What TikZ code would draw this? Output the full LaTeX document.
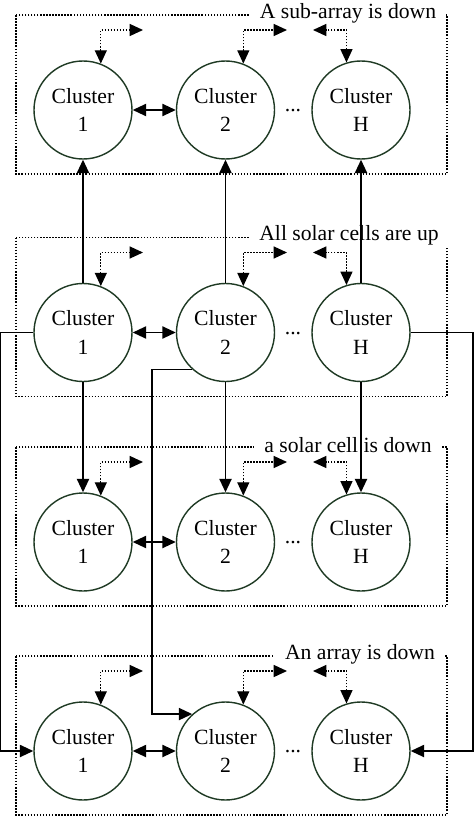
\documentclass[tikz,border=0pt]{standalone}
\usepackage{fontspec}
\setmainfont{Liberation Serif}
\usetikzlibrary{arrows.meta}
\definecolor{ringgreen}{HTML}{1F3A24}

\begin{document}
\begin{tikzpicture}[x=0.03cm, y=-0.03cm,
    >={Triangle[length=0.4cm, width=0.36cm]},
    cluster/.style={circle, draw=ringgreen, line width=1.2pt, minimum size=2.94cm,
        align=center, font=\fontsize{18.5}{24}\selectfont},
    link/.style={line width=1.6pt},
    dotlink/.style={line width=1.1pt, dash pattern=on 1.3pt off 1.3pt, <->},
    panel/.style={line width=1.1pt, dash pattern=on 1.3pt off 1.3pt},
    caption/.style={fill=white, inner xsep=0.3cm, inner ysep=0.05cm,
        font=\fontsize{18.5}{22}\selectfont}]
    \useasboundingbox (0, 0) rectangle (474, 816);
    %\draw[lightgray] (0, 0) grid[step=50] (474, 816);
    \foreach \p/\y/\txt/\lx in {a/110/A sub-array is down/348,
            b/332.5/All solar cells are up/349,
            c/542/a solar cell is down/348,
            d/751/An array is down/360} {
        \draw[panel] (16, \y-95) rectangle (447, \y+64);
        \node[caption] (\p t) at (\lx, \y-97) {\txt};
        \node[cluster] (\p1) at (83, \y) {Cluster\\1};
        \node[cluster] (\p2) at (225.5, \y) {Cluster\\2};
        \node[cluster] (\p H) at (361, \y) {Cluster\\H};
        \node[font=\fontsize{18.5}{22}\selectfont] (\p dots) at (293, \y+1) {...};
        \draw[link, <->] (\p1) -- (\p2);
        \coordinate (\p e1) at (143, \y-80);
        \coordinate (\p e2) at (287, \y-80);
        \coordinate (\p eH) at (313, \y-80);
        \draw[dotlink] (\p1.69) |- (\p e1);
        \draw[dotlink] (\p2.69) |- (\p e2);
        \draw[dotlink] (\p H.107) |- (\p eH);
    }
    % up to the sub-array case, down to the solar cell case
    \draw[link, ->] (b1) -- (a1);
    \draw[link, ->] (b2) -- (a2);
    \draw[link, ->] (bH) -- (aH);
    \draw[link, ->] (b1) -- (c1);
    \draw[link, ->] (b2) -- (c2);
    \draw[link, ->] (bH) -- (cH);
    % round the sides to the array case
    \draw[link, ->] (b1.west) -- ++(-33, 0) |- (d1.west);
    \draw[link, ->] (b2.228) -- ++(-40, 0) |- (d2.132);
    \draw[link, ->] (bH.east) -- ++(62, 0) |- (dH.east);
\end{tikzpicture}
\end{document}
